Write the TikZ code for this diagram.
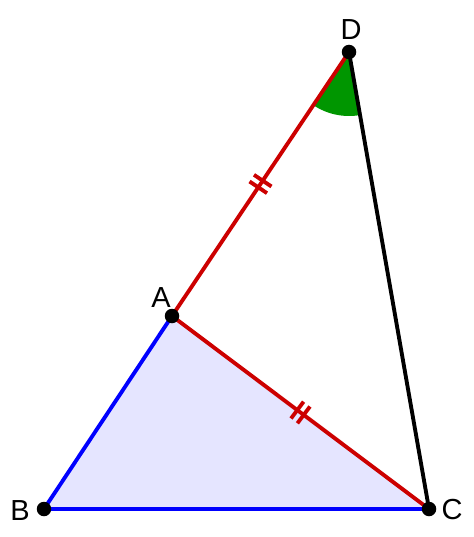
\documentclass[tikz,border=0pt]{standalone}
\usepackage{fontspec}
\setmainfont{Liberation Sans}
\usetikzlibrary{angles,decorations.markings}
\definecolor{segred}{RGB}{204,0,0}
\definecolor{segblue}{RGB}{0,0,255}
\definecolor{anggreen}{RGB}{0,150,0}
\definecolor{trifill}{RGB}{229,229,255}
\tikzset{
  seg/.style={line width=2.2pt},
  dot/.style={circle,fill=black,inner sep=0pt,minimum size=0.29cm},
  lbl/.style={font=\fontsize{16.5}{18}\selectfont},
  twoticks/.style={postaction={decorate,decoration={markings,
    mark=at position 0.5 with {\draw[segred,line width=2.2pt] (-0.08,-0.21)--(-0.08,0.21) (0.08,-0.21)--(0.08,0.21);}}}}
}
\begin{document}
\begin{tikzpicture}
\useasboundingbox (0,0) rectangle (9.48,-10.74);
\coordinate (A) at (3.44,-6.32);
\coordinate (B) at (0.88,-10.18);
\coordinate (C) at (8.58,-10.18);
\coordinate (D) at (6.98,-1.04);

\fill[trifill] (A)--(B)--(C)--cycle;
\fill[anggreen] pic[angle radius=1.28cm,fill=anggreen,draw=none] {angle=A--D--C};

\draw[seg,segblue] (A)--(B)--(C);
\draw[seg] (D)--(C);
\draw[seg,segred,twoticks] (D)--(A);
\draw[seg,segred,twoticks] (A)--(C);

\node[dot] (a) at (A) {};
\node[dot] (b) at (B) {};
\node[dot] (c) at (C) {};
\node[dot] (d) at (D) {};

\node[lbl] (la) at (3.22,-5.96) {A};
\node[lbl] (lb) at (0.40,-10.22) {B};
\node[lbl] (lc) at (9.04,-10.20) {C};
\node[lbl] (ld) at (7.02,-0.60) {D};
\end{tikzpicture}
\end{document}
